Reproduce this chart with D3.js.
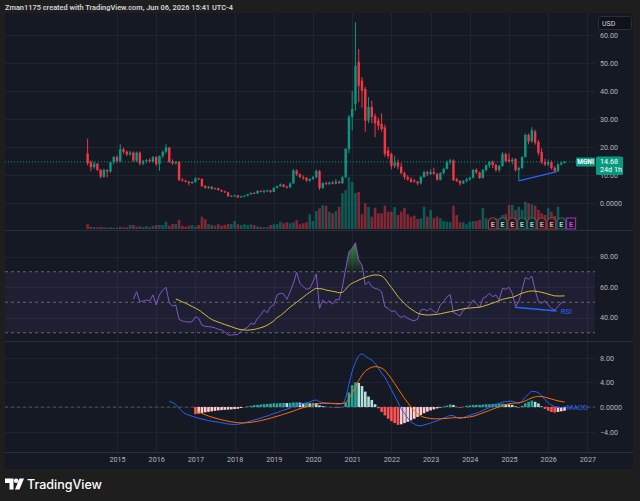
<!DOCTYPE html>
<html><head><meta charset="utf-8">
<script src="https://cdn.jsdelivr.net/npm/d3@7"></script>
<style>
html,body{margin:0;padding:0;background:#1e1e1e;}
svg{display:block;font-family:Roboto,"Noto Sans",sans-serif;}
</style></head><body>
<svg id="c" width="640" height="501"></svg>
<script>
// ---------- DATA (monthly bars, first bar = Apr 2014) ----------
const firstBarYear = 2014, firstBarMonth = 4;
const opens = [17.7,14.5,12.8,14.0,11.8,9.4,11.8,11.3,14.5,16.4,14.9,19.2,18.3,17.4,18.0,15.2,18.0,14.1,15.0,15.3,14.8,16.4,13.9,16.8,18.3,19.8,14.7,14.2,14.7,8.3,8.0,7.6,7.1,7.5,8.8,8.6,6.0,5.4,5.8,5.1,5.3,4.6,4.2,3.8,2.4,2.6,2.7,2.0,2.4,2.6,3.1,3.6,3.4,4.3,4.0,4.4,4.5,4.0,5.4,6.0,6.6,5.8,5.6,7.0,11.6,10.3,9.3,9.0,8.0,8.6,9.3,11.4,5.4,7.1,6.8,7.3,6.9,7.6,7.1,9.2,19.3,30.7,35.4,50.4,43.7,40.7,29.4,34.3,31.0,29.4,28.2,27.0,18.8,17.5,13.3,14.5,13.0,10.7,9.3,8.5,8.0,7.6,7.0,9.3,11.0,10.4,11.0,10.4,8.3,10.7,12.2,14.6,15.2,8.5,7.9,7.0,7.8,8.4,9.0,11.8,10.9,8.9,11.8,13.5,14.6,13.6,11.8,13.2,17.5,15.5,14.8,15.7,11.8,12.5,16.4,24.3,22.0,25.5,21.8,18.2,14.6,13.8,14.6,12.5,11.4,13.8,14.3];
const highs = [23.0,15.2,14.8,14.3,12.2,12.3,12.0,14.8,16.8,17.0,21.0,19.8,18.8,18.6,18.4,18.4,18.4,15.4,15.7,16.0,16.8,16.8,17.0,18.8,21.0,20.0,15.6,15.0,14.9,8.9,8.3,7.8,7.8,9.2,9.0,8.8,6.4,6.1,6.0,5.6,5.4,4.8,4.4,4.0,2.8,2.9,2.9,2.6,2.8,3.3,3.8,3.9,4.6,4.5,4.7,4.8,4.7,5.6,6.2,7.0,6.8,6.2,7.3,12.2,12.0,10.6,9.9,9.3,8.8,9.6,12.0,11.8,7.4,7.6,7.6,7.8,8.6,8.0,9.6,19.6,31.5,40.0,64.5,55.0,45.0,41.5,37.8,36.5,32.0,30.5,32.0,28.0,20.0,18.0,16.8,15.5,14.3,11.2,10.0,9.2,8.6,7.9,9.6,11.6,11.5,12.0,12.6,10.8,11.0,12.6,15.2,15.8,15.6,9.0,8.2,8.2,9.0,9.4,12.2,12.4,11.2,12.2,13.8,15.0,15.2,14.0,13.6,18.2,18.0,17.8,16.2,16.0,13.0,16.8,24.8,24.8,27.1,26.2,22.5,19.5,15.8,15.5,15.2,13.2,14.2,14.8,15.0];
const lows = [13.4,11.4,12.2,11.4,8.9,9.0,9.2,10.8,13.8,14.4,14.5,17.6,16.8,16.9,14.6,14.6,13.4,13.5,14.2,14.4,14.4,13.3,11.5,16.0,17.6,14.3,13.6,13.8,7.8,7.7,7.3,6.3,6.8,7.2,8.2,5.7,5.1,5.0,4.8,4.8,4.5,3.9,3.6,2.2,2.2,2.4,1.8,1.8,2.2,2.4,3.0,3.2,3.3,3.8,3.5,3.9,3.6,3.9,5.2,5.8,5.5,5.2,5.4,6.9,9.6,8.8,8.2,7.6,7.6,8.2,8.8,4.6,5.0,6.4,6.4,6.7,6.7,6.8,6.8,9.0,17.8,26.0,33.0,36.0,34.0,25.5,28.5,28.5,23.5,26.0,25.5,16.5,15.8,12.0,12.5,12.0,10.2,8.3,8.0,7.3,7.3,6.3,6.6,9.0,9.6,10.0,10.2,8.0,8.0,10.2,12.0,13.8,7.8,7.5,6.2,6.8,7.4,8.0,8.8,10.4,8.6,8.8,11.2,12.6,12.5,11.2,11.0,13.0,14.5,14.5,13.8,11.2,7.9,12.2,16.2,21.0,21.5,20.8,17.0,14.0,13.2,13.2,12.0,10.8,11.1,13.4,14.1];
const closes = [14.2,12.8,14.0,11.8,9.4,11.8,11.3,14.5,16.4,14.9,19.2,18.3,17.4,18.0,15.2,18.0,14.1,15.0,15.3,14.8,16.4,13.9,16.8,18.3,19.8,14.7,14.2,14.7,8.2,8.0,7.6,7.1,7.5,8.8,8.6,6.0,5.4,5.8,5.1,5.3,4.6,4.2,3.8,2.4,2.6,2.7,2.0,2.4,2.6,3.1,3.6,3.4,4.3,4.0,4.4,4.5,4.0,5.4,6.0,6.6,5.8,5.6,7.0,11.6,10.3,9.3,9.0,8.0,8.6,9.3,11.4,5.4,7.1,6.8,7.3,6.9,7.6,7.1,9.2,19.3,30.7,33.6,49.0,41.9,40.1,29.4,34.3,30.7,28.5,27.6,26.4,17.5,16.8,13.3,14.5,13.0,10.7,9.3,8.5,7.5,7.6,7.0,9.3,11.0,10.4,11.0,10.4,8.3,10.7,12.2,14.6,15.2,8.2,7.9,7.0,7.8,8.4,9.0,11.8,10.9,8.9,11.8,13.5,14.6,13.6,11.8,13.2,17.5,15.0,14.8,15.5,11.8,12.5,16.4,24.3,22.0,26.0,21.5,17.9,14.6,13.8,14.6,12.5,11.4,13.8,14.3,14.68];
const volumes = [4.7,2.3,2,1.7,2,1.7,1.3,1.7,1.3,1.3, 2.3,1.7,1.7,4,4,2.3,2.7,2,2.7,1.7, 3.3,4,4,4,7.3,3.3,5,5,9.3,3.3, 2.3,3.3,4,2.3,4,12.3,10,5,4,3.3, 4.7,3.3,4,5,5,8,4.7,4,4.7,4, 4.7,4,2.7,2,1.7,2,4,4.7,5,7.3, 5.7,6.7,5.7,6.7,9,4.7,5.7,6.7,14.7,8, 18,20.7,24,23.3,17.3,15.7,18,22.3,35.7,39, 52,47,36,37,14.7,25.7,22,12.3,21.3,15.7, 15.7,23.3,17.3,17.3,22,14,17.3,21.3,14.7,12.3, 13.3,10,10.7,22.3,12.3,19,10.7,12.3,10.7,8, 7.3,6.7,23.3,14,6.7,6.7,4.7,7.3,8,8, 9,21,10.7,9,7.3,10.7,10.7,14,14.7,24, 24,19,22.3,19,27.3,25.7,24.7,23.3,19,15.7, 14,20.7,17.3,13.3,22.3,9,5];
const lastPrice = 14.68, tickerName = "MGNI", barCountdown = "24d 1h";

const rsiStart = 14;
const rsi = [51.9,56.9,50.4,50.8,51.5,50.8,54.8,48.2,54.8,58, 59.8,49.7,47.5,48.2,38.8,37.7,37.2,37.0,37.2,40.5, 39.5,35.0,34.2,34.0,33.8,33.2,32.3,31.8,30.5,28.5, 28.5,28.7,28.9,31.3,32.5,33.6,36.2,35.5,39.5,41.6, 44.9,43.2,47.1,48.2,54.8,55.9,55.5,51.9,56.9,62.4, 69.6,62.4,60.2,58.5,59,63.5,68.5,46,51.5,49.3, 51,48.7,51.9,51.5,60,72,83,85.4,89,77.7, 74.4,61.3,63.5,60.2,59,58.5,56.9,47.1,46,43.8, 44.5,41.6,40.1,41,39.5,38.4,37.9,38.8,44.9,45.4, 44.5,46,43.8,43.2,48.2,50.4,53.6,55,43.2,42.3, 41,44.9,46,48.2,51.5,49.3,46.4,52.6,53.6,55.9, 53.6,54.8,51.5,59.1,58.5,59.8,55.9,47.1,50.4,58, 66.4,65,67.2,58,50.4,49.3,51,48.2,46,44.9, 47.1,49.7,50.4];
const rsiMAStart = 27;
const rsiMA = [52.1,51.3,50.2,49.4,48.3,47.2,46.1,45.0,43.4,41.8, 40.2,38.7,37.8,37.0,36.2,35.4,34.7,34.0,33.2,32.5, 32.1,31.8,31.7,31.9,32.2,32.7,33.3,34.0,35.0,36.3, 37.8,39.9,41.2,43.0,44.9,46.8,48.4,50.0,51.7,53.3, 55.0,56.5,58.0,59.1,58.9,58.7,58.0,57.6,57.2,56.8, 56.2,56.5,58.5,61.0,62.5,63.5,64.5,65.5,66.3,67.0, 67.6,67.9,67.8,67.2,65.5,62.5,59.7,56.8,53.8,51.5, 49.3,47.2,45.6,44.2,42.9,42.2,41.8,41.6,41.7,41.9, 42.1,42.4,42.9,43.4,43.8,44.2,44.7,45.2,45.7,46.0, 46.2,46.4,46.6,46.8,47.3,48.0,48.7,49.4,50.2,51.1, 51.9,52.4,52.9,53.2,54.0,55.0,55.9,56.6,57.1,57.4, 57.3,57.0,56.5,56.0,55.3,54.7,54.2,54.1,54.1,54.2];
const macdStart = 25;
const macd = [0.96,0.7,0.4,-0.2,-0.75,-1.1,-1.3,-1.5,-1.65,-1.82, -1.95,-2.05,-2.2,-2.3,-2.38,-2.45,-2.55,-2.65,-2.75,-2.8, -2.83,-2.8,-2.7,-2.55,-2.4,-2.25,-2.1,-1.95,-1.8,-1.6, -1.45,-1.25,-1.05,-0.9,-0.7,-0.5,-0.35,-0.15,0.1,0.3, 0.45,0.55,0.7,0.8,1.05,1.13,0.85,0.75,0.65,0.6, 0.55,0.5,0.45,0.6,1.5,3.7,5.8,7.2,8.3,8.6, 8.3,7.9,7.6,7.1,6.3,5.5,4.8,3.8,2.8,1.8, 0.8,-0.3,-1.0,-1.8,-2.4,-2.75,-3.0,-3.05,-2.9,-2.75, -2.6,-2.4,-2.25,-2.0,-1.8,-1.6,-1.35,-1.4,-1.7,-1.87, -1.7,-1.5,-1.35,-1.15,-1.0,-0.8,-0.55,-0.3,-0.1,0.15, 0.4,0.6,0.8,0.85,0.95,0.95,0.75,0.6,1.0,1.6, 2.1,2.55,2.5,2.3,1.8,1.2,0.7,0.3,0.1,-0.05, -0.1,-0.1];
const signalStart = 33;
const signal = [-0.55,-0.8,-1.03,-1.25,-1.45,-1.62,-1.78,-1.93,-2.06,-2.18, -2.3,-2.4,-2.48,-2.54,-2.57,-2.57,-2.54,-2.48,-2.4,-2.3, -2.2,-2.08,-1.95,-1.8,-1.65,-1.5,-1.34,-1.17,-1.0,-0.83, -0.65,-0.45,-0.27,-0.1,0.05,0.2,0.37,0.5,0.57,0.6, 0.61,0.61,0.6,0.59,0.57,0.58,0.76,1.35,2.25,3.25, 4.3,5.15,5.8,6.2,6.45,6.55,6.5,6.3,5.95,5.3, 4.6,3.8,3.0,2.2,1.4,0.7,0.0,-0.6,-1.1,-1.45, -1.65,-1.78,-1.85,-1.9,-1.92,-1.9,-1.88,-1.83,-1.78,-1.73, -1.72,-1.74,-1.73,-1.7,-1.6,-1.5,-1.35,-1.15,-0.95,-0.75, -0.55,-0.35,-0.15,0.05,0.25,0.4,0.52,0.6,0.65,0.7, 0.8,1.0,1.25,1.5,1.65,1.72,1.7,1.6,1.45,1.3, 1.15,1.0,0.9,0.8];
const histStart = 33;
const hist = [-1.15,-1.05,-0.95,-0.85,-0.78,-0.7,-0.62,-0.55,-0.5,-0.45, -0.42,-0.38,-0.33,-0.28,-0.16,-0.02,0.1,0.2,0.3,0.35, 0.4,0.48,0.5,0.55,0.6,0.6,0.64,0.67,0.65,0.68, 0.75,0.75,0.72,0.65,0.65,0.6,0.68,0.63,0.28,0.15, 0.04,-0.01,-0.05,-0.09,-0.12,0.02,0.74,2.35,3.55,4.0, 3.9,3.4,2.5,1.7,1.15,0.45,-0.2,-0.8,-1.35,-1.9, -2.3,-2.6,-2.9,-2.8,-2.6,-2.4,-2.15,-1.9,-1.6,-1.3, -1.0,-0.75,-0.55,-0.38,-0.22,-0.1,0.08,0.23,0.43,0.33, 0.02,-0.13,0.03,0.2,0.25,0.35,0.35,0.35,0.4,0.45, 0.45,0.5,0.55,0.55,0.55,0.45,0.43,0.35,0.1,-0.1, 0.2,0.6,0.85,1.05,0.85,0.58,0.1,-0.3,-0.6,-0.8, -0.9,-0.8,-0.7,-0.6];

// trend lines (bar index, value)
const priceTrend = [[132, 7.9], [143.6, 11.2]];
const rsiTrend = [[130.8, 46.7], [143.6, 44.3]];
// earnings markers (bar index, outcome)
const earningsBars = [124, 127, 130, 133, 136, 139, 142, 145, 148];
const earningsKinds = ["miss", "beat", "miss", "beat", "beat", "miss", "miss", "beat", "future"];
const yearTicks = [2015,2016,2017,2018,2019,2020,2021,2022,2023,2024,2025,2026,2027];
const priceTicks = [0,10,20,30,40,50,60];
const rsiTicks = [40,60,80];
const rsiLevels = [70,50,30];
const macdTicks = [-4,0,4,8];

// ---------- LAYOUT ----------
const svg = d3.select("#c");
const L = 5, R = 595, AX = 633;
const P = {top: 13, bot: 230}, Q = {top: 231, bot: 341}, M = {top: 342, bot: 452}, T = {top: 452, bot: 469};
const barOffset = (firstBarYear - 2015) * 12 + (firstBarMonth - 1);
const x = d3.scaleLinear().domain([0, 144]).range([117, 587.4]);
const xi = i => x(i + barOffset);
const yP = d3.scaleLinear().domain([0, 60]).range([203, 35]);
const yV = d3.scaleLinear().domain([0, 52]).range([229, 177]);
const yR = d3.scaleLinear().domain([40, 80]).range([317.5, 256.5]);
const yM = d3.scaleLinear().domain([-4, 8]).range([431.7, 357.7]);

const UP = "#089981", DN = "#f23645", GRID = "#20242f", TXT = "#b2b5be";

svg.append("rect").attr("x", L).attr("y", P.top).attr("width", AX - L).attr("height", T.bot - P.top).attr("fill", "#151924");
const defs = svg.append("defs");
[["cp", P], ["cr", Q], ["cm", M]].forEach(([id, p]) => {
  defs.append("clipPath").attr("id", id).append("rect").attr("x", L).attr("y", p.top).attr("width", R - L).attr("height", p.bot - p.top);
});

const g0 = svg.append("g");
yearTicks.forEach(yr => {
  const xx = Math.round(x((yr - 2015) * 12)) + 0.5;
  g0.append("line").attr("x1", xx).attr("x2", xx).attr("y1", P.top).attr("y2", M.bot).attr("stroke", GRID).attr("stroke-width", 1);
});
function hgrid(scale, ticks) {
  ticks.forEach(t => { const yy = Math.round(scale(t)) + 0.5;
    g0.append("line").attr("x1", L).attr("x2", R).attr("y1", yy).attr("y2", yy).attr("stroke", GRID); });
}
hgrid(yP, priceTicks); hgrid(yR, rsiTicks); hgrid(yM, macdTicks);
[P.bot + 0.5, Q.bot + 0.5, M.bot + 0.5].forEach(yy => svg.append("line").attr("x1", L).attr("x2", AX).attr("y1", yy).attr("y2", yy).attr("stroke", "#2a2e39"));

// ---------- PRICE PANE ----------
const gp = svg.append("g").attr("clip-path", "url(#cp)");
const bars = closes.map((c, i) => ({i, o: opens[i], h: highs[i], l: lows[i], c, v: volumes[i]}));
gp.selectAll("rect.vol").data(bars).join("rect")
  .attr("x", d => xi(d.i) - 1.3).attr("width", 2.6)
  .attr("y", d => yV(d.v)).attr("height", d => yV(0) - yV(d.v))
  .attr("fill", d => d.c >= d.o ? UP : DN).attr("fill-opacity", 0.5);
gp.append("line").attr("x1", L).attr("x2", R).attr("y1", yP(lastPrice)).attr("y2", yP(lastPrice))
  .attr("stroke", UP).attr("stroke-dasharray", "1,2").attr("stroke-width", 1);
gp.selectAll("line.wick").data(bars).join("line")
  .attr("x1", d => xi(d.i)).attr("x2", d => xi(d.i))
  .attr("y1", d => yP(d.h)).attr("y2", d => yP(d.l))
  .attr("stroke", d => d.c >= d.o ? UP : DN).attr("stroke-width", 1);
gp.selectAll("rect.body").data(bars).join("rect")
  .attr("x", d => xi(d.i) - 1.2).attr("width", 2.4)
  .attr("y", d => yP(Math.max(d.o, d.c)))
  .attr("height", d => Math.max(1, Math.abs(yP(d.o) - yP(d.c))))
  .attr("fill", d => d.c >= d.o ? UP : DN);
gp.append("line").attr("x1", xi(priceTrend[0][0])).attr("y1", yP(priceTrend[0][1]))
  .attr("x2", xi(priceTrend[1][0])).attr("y2", yP(priceTrend[1][1])).attr("stroke", "#2962ff").attr("stroke-width", 1.5);

// earnings markers
const eCol = {miss: "#a7313b", beat: "#1d6d61", future: "#9c27b0"};
earningsBars.forEach((bi, k) => {
  const kind = earningsKinds[k];
  const cx = xi(bi), cy = 223.5;
  const g = svg.append("g");
  if (kind === "future") {
    g.append("rect").attr("x", cx - 4.5).attr("y", cy - 5.5).attr("width", 9).attr("height", 11).attr("fill", "#151924").attr("stroke", eCol[kind]).attr("stroke-width", 1.2);
  } else {
    g.append("path").attr("d", `M${cx-4.3},${cy-3} L${cx-2},${cy-5.5} L${cx+2},${cy-5.5} L${cx+4.3},${cy-3} L${cx+4.3},${cy+5.5} L${cx-4.3},${cy+5.5} Z`)
      .attr("fill", "#1b1d27").attr("stroke", eCol[kind]).attr("stroke-width", 1.2);
  }
  g.append("text").attr("x", cx).attr("y", cy + 3).attr("text-anchor", "middle").attr("font-size", 7).attr("font-weight", 700)
    .attr("fill", kind === "future" ? "#c34fd6" : (kind === "miss" ? "#e8a3a8" : "#9fd6cc")).text("E");
});

// ---------- RSI PANE ----------
const gr = svg.append("g").attr("clip-path", "url(#cr)");
gr.append("rect").attr("x", L).attr("width", R - L).attr("y", yR(70)).attr("height", yR(30) - yR(70)).attr("fill", "#7e57c2").attr("fill-opacity", 0.1);
rsiLevels.forEach(lv => gr.append("line").attr("x1", L).attr("x2", R).attr("y1", yR(lv)).attr("y2", yR(lv))
  .attr("stroke", "#787b86").attr("stroke-dasharray", "3,3").attr("stroke-opacity", 0.8));
const grad = defs.append("linearGradient").attr("id", "ob").attr("gradientUnits", "userSpaceOnUse")
  .attr("x1", 0).attr("x2", 0).attr("y1", yR(90)).attr("y2", yR(70));
grad.append("stop").attr("offset", 0).attr("stop-color", "#4caf50").attr("stop-opacity", 0.75);
grad.append("stop").attr("offset", 1).attr("stop-color", "#4caf50").attr("stop-opacity", 0.05);
const rsiPts = rsi.map((v, k) => [k + rsiStart, v]);
gr.append("path").datum(rsiPts).attr("fill", "url(#ob)")
  .attr("d", d3.area().x(d => xi(d[0])).y0(yR(70)).y1(d => Math.min(yR(d[1]), yR(70))));
gr.append("path").datum(rsiPts).attr("fill", "none").attr("stroke", "#7e57c2").attr("stroke-width", 1)
  .attr("d", d3.line().x(d => xi(d[0])).y(d => yR(d[1])));
gr.append("path").datum(rsiMA.map((v, k) => [k + rsiMAStart, v])).attr("fill", "none").attr("stroke", "#d8bc3a").attr("stroke-width", 1)
  .attr("d", d3.line().curve(d3.curveMonotoneX).x(d => xi(d[0])).y(d => yR(d[1])));
gr.append("line").attr("x1", xi(rsiTrend[0][0])).attr("y1", yR(rsiTrend[0][1]))
  .attr("x2", xi(rsiTrend[1][0])).attr("y2", yR(rsiTrend[1][1])).attr("stroke", "#2962ff").attr("stroke-width", 1.5);
svg.append("text").attr("x", xi(rsiTrend[1][0]) + 4).attr("y", yR(rsiTrend[1][1]) + 3).attr("font-size", 7.5).attr("fill", "#2962ff").text("RSI");

// ---------- MACD PANE ----------
const gm = svg.append("g").attr("clip-path", "url(#cm)");
gm.append("line").attr("x1", L).attr("x2", R).attr("y1", yM(0)).attr("y2", yM(0)).attr("stroke", "#787b86").attr("stroke-dasharray", "3,3").attr("stroke-opacity", 0.6);
const hPts = hist.map((v, k) => ({i: k + histStart, v, prev: k > 0 ? hist[k - 1] : 0}));
gm.selectAll("rect.h").data(hPts).join("rect")
  .attr("x", d => xi(d.i) - 1.3).attr("width", 2.6)
  .attr("y", d => yM(Math.max(0, d.v))).attr("height", d => Math.abs(yM(d.v) - yM(0)))
  .attr("fill", d => d.v >= 0 ? (d.v >= d.prev ? "#26a69a" : "#b2dfdb") : (d.v <= d.prev ? "#ff5252" : "#ffcdd2"));
gm.append("path").datum(macd.map((v, k) => [k + macdStart, v])).attr("fill", "none").attr("stroke", "#2962ff").attr("stroke-width", 1)
  .attr("d", d3.line().curve(d3.curveMonotoneX).x(d => xi(d[0])).y(d => yM(d[1])));
gm.append("path").datum(signal.map((v, k) => [k + signalStart, v])).attr("fill", "none").attr("stroke", "#ff6d00").attr("stroke-width", 1)
  .attr("d", d3.line().curve(d3.curveMonotoneX).x(d => xi(d[0])).y(d => yM(d[1])));
svg.append("text").attr("x", xi(146) + 2).attr("y", yM(0) + 3).attr("font-size", 7.5).attr("fill", "#2962ff").text("MACD");

// ---------- AXES ----------
function rightAxis(scale, ticks, fmt) {
  const g = svg.append("g").attr("transform", `translate(${R + 4},0)`)
    .call(d3.axisRight(scale).tickValues(ticks).tickSize(0).tickPadding(1).tickFormat(fmt));
  g.select(".domain").remove();
  g.selectAll("text").attr("fill", TXT).attr("font-size", 7.2).attr("font-family", "Roboto, sans-serif");
}
rightAxis(yP, priceTicks, d => d === 0 ? "0.0000" : d.toFixed(2));
rightAxis(yR, rsiTicks, d => d.toFixed(2));
rightAxis(yM, macdTicks, d => d === 0 ? "0.0000" : (d < 0 ? "\u2212" + Math.abs(d).toFixed(2) : d.toFixed(2)));

const gx = svg.append("g").attr("transform", `translate(0,${T.top})`)
  .call(d3.axisBottom(x).tickValues(yearTicks.map(y => (y - 2015) * 12)).tickSize(0).tickPadding(5).tickFormat((d, k) => yearTicks[k]));
gx.select(".domain").remove();
gx.selectAll("text").attr("fill", TXT).attr("font-size", 7.2).attr("font-family", "Roboto, sans-serif");

// USD box
svg.append("rect").attr("x", 598.5).attr("y", 16.5).attr("width", 33).attr("height", 13).attr("rx", 2).attr("fill", "#0f121a").attr("stroke", "#2a2e39");
svg.append("text").attr("x", 602).attr("y", 26).attr("font-size", 7).attr("fill", "#d1d4dc").text("USD");

// last price badges
const ly = yP(lastPrice);
svg.append("rect").attr("x", 576).attr("y", ly - 4.5).attr("width", 19).attr("height", 9).attr("rx", 1).attr("fill", UP);
svg.append("text").attr("x", 585.5).attr("y", ly + 2.5).attr("text-anchor", "middle").attr("font-size", 6.5).attr("font-weight", 700).attr("fill", "#fff").text(tickerName);
svg.append("rect").attr("x", 596).attr("y", ly - 5.5).attr("width", 27).attr("height", 18.5).attr("rx", 1.5).attr("fill", UP);
svg.append("text").attr("x", 600).attr("y", ly + 2).attr("font-size", 7.2).attr("fill", "#fff").text(lastPrice.toFixed(2));
svg.append("text").attr("x", 600).attr("y", ly + 10).attr("font-size", 7.2).attr("fill", "#fff").text(barCountdown);

// header
svg.append("text").attr("x", 5).attr("y", 9.5).attr("font-size", 7.4).attr("font-weight", 600).attr("fill", "#d1d4dc")
  .text("Zman1175 created with TradingView.com, Jun 06, 2026 15:41 UTC-4");

// TradingView logo
const lg = svg.append("g").attr("fill", "#ffffff");
lg.append("path").attr("d", "M5,478.5 h8.5 v11 h-4 v-6.5 h-4.5 z");
lg.append("circle").attr("cx", 16.2).attr("cy", 480.8).attr("r", 2.3);
lg.append("path").attr("d", "M19.5,478.5 h4.5 l-4.5,11 h-4.5 z");
svg.append("text").attr("x", 27).attr("y", 489).attr("font-size", 12.5).attr("fill", "#ffffff").attr("font-family", "Inter, Roboto, sans-serif").attr("font-weight", 500).text("TradingView");
</script>
</body></html>
